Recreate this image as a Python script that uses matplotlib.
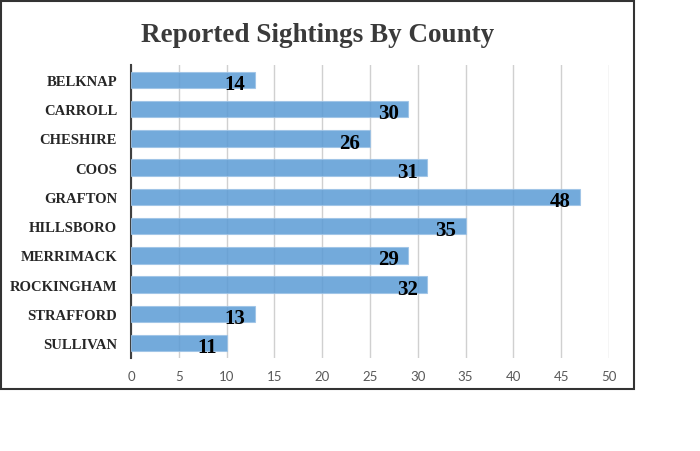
import matplotlib.pyplot as plt
from matplotlib.patches import Rectangle

counties = ["BELKNAP", "CARROLL", "CHESHIRE", "COOS", "GRAFTON",
            "HILLSBORO", "MERRIMACK", "ROCKINGHAM", "STRAFFORD", "SULLIVAN"]
# bar lengths as drawn, and the numbers printed on them (they differ a bit)
bar_lengths = [13, 29, 25, 31, 47, 35, 29, 31, 13, 10]
labels = [14, 30, 26, 31, 48, 35, 29, 32, 13, 11]
x_ticks = [0, 5, 10, 15, 20, 25, 30, 35, 40, 45, 50]

fig = plt.figure(figsize=(7, 4.52), dpi=100)
ax = fig.add_axes([131 / 700, 1 - 358.6 / 452, 478 / 700, 292.2 / 452])

pos = list(range(len(counties)))
ax.barh(pos, bar_lengths, height=0.56, color="#5b9bd5", alpha=0.85,
        edgecolor="#9dc3e6", linewidth=0.8, zorder=3)

for p, v, lab in zip(pos, bar_lengths, labels):
    ax.annotate(str(lab), (v, p), xytext=(-7, -3), textcoords="offset points",
                ha="right", va="center", fontsize=15, fontweight="bold",
                family="Liberation Serif", color="black", zorder=4)

ax.set_xlim(0, 50)
ax.set_ylim(len(counties) - 0.5, -0.5)
ax.set_xticks(x_ticks)
ax.set_yticks(pos)
ax.set_yticklabels(counties, family="Liberation Serif", fontweight="bold",
                   fontsize=10.5, color="#262626")
for t in ax.get_xticklabels():
    t.set_family("Lato")
    t.set_fontsize(9.5)
    t.set_color("#595959")
ax.tick_params(axis="both", length=0)
ax.tick_params(axis="y", pad=10)
ax.tick_params(axis="x", pad=9)
ax.grid(axis="x", color="#d0d0d0", linewidth=1.0, zorder=0)
for s in ["top", "right", "bottom"]:
    ax.spines[s].set_visible(False)
ax.spines["left"].set_color("#404040")
ax.spines["left"].set_linewidth(1.5)

fig.text(318 / 700, 1 - 35 / 452, "Reported Sightings By County", ha="center",
         va="center", fontsize=19.5, fontweight="bold",
         family="Liberation Serif", color="#3a3a3a")

# outer frame around the chart area
fig.patches.append(Rectangle((1 / 700, 1 - 390 / 452), 633 / 700, 388 / 452,
                             transform=fig.transFigure, fill=False,
                             edgecolor="#333333", linewidth=1.5))

fig.savefig("out.png", dpi=100, facecolor="white")
